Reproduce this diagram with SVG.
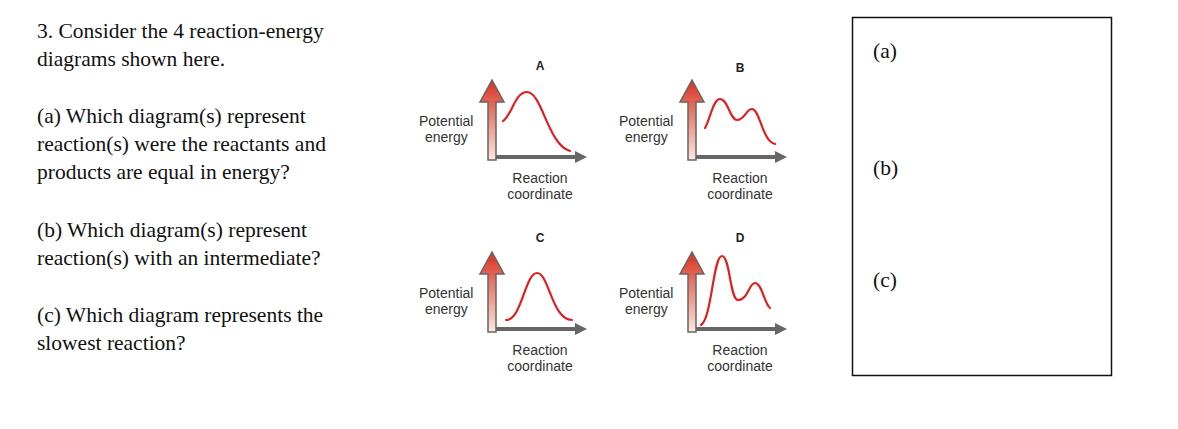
<svg xmlns="http://www.w3.org/2000/svg" width="1178" height="429" viewBox="0 0 1178 429">
<style>
.q{font-family:"Liberation Serif",serif;font-size:21.5px;fill:#111}
.s{font-family:"Liberation Sans",Arial,sans-serif;font-size:14px;fill:#333}
.t{font-family:"Liberation Sans",Arial,sans-serif;font-size:12px;font-weight:bold;fill:#222;text-anchor:middle}
.c{fill:none;stroke:#e02020;stroke-width:2.2;stroke-linecap:round}
.ax{fill:none;stroke:#666;stroke-width:4}
</style>
<defs>
<linearGradient id="g" x1="0" y1="0" x2="0" y2="1">
<stop offset="0" stop-color="#d8301c"/><stop offset="1" stop-color="#fbe8df"/>
</linearGradient>
<marker id="ah" viewBox="0 0 10 10" refX="5" refY="5" markerWidth="3" markerHeight="3" orient="auto"><path d="M0,0L10,5L0,10z" fill="#666"/></marker>
<g id="axes">
<path class="ax" d="M494,157H581" marker-end="url(#ah)"/>
<path d="M488,102H480L492,80L504,102H496V160H488Z" fill="url(#g)" stroke="#666" stroke-width="1.5"/>
<text class="s" x="419" y="126">Potential</text>
<text class="s" x="425" y="142">energy</text>
<text class="s" x="540" y="183" text-anchor="middle">Reaction</text>
<text class="s" x="540" y="199" text-anchor="middle">coordinate</text>
</g>
</defs>
<g id="question">
<text class="q" x="37" y="38">3. Consider the 4 reaction-energy</text>
<text class="q" x="37" y="66">diagrams shown here.</text>
<text class="q" x="37" y="123">(a) Which diagram(s) represent</text>
<text class="q" x="37" y="151">reaction(s) were the reactants and</text>
<text class="q" x="37" y="179">products are equal in energy?</text>
<text class="q" x="37" y="237">(b) Which diagram(s) represent</text>
<text class="q" x="37" y="265">reaction(s) with an intermediate?</text>
<text class="q" x="37" y="322">(c) Which diagram represents the</text>
<text class="q" x="37" y="350">slowest reaction?</text>
</g>
<g id="diagramA">
<text class="t" x="540" y="70">A</text>
<use href="#axes"/>
<path class="c" d="M503,121C512,115 515,92 527,92C542,92 548,145 570,151"/>
</g>
<g id="diagramB">
<text class="t" x="740" y="72">B</text>
<use href="#axes" transform="translate(200,0)"/>
<path class="c" d="M705,128C710,120 713,99 720,99C728,99 730,120 737,120C745,120 746,109 752,109C760,109 762,141 775,144"/>
</g>
<g id="diagramC">
<text class="t" x="540" y="242">C</text>
<use href="#axes" transform="translate(0,172)"/>
<path class="c" d="M506,320C522,320 525,273 537,273C549,273 552,320 572,320"/>
</g>
<g id="diagramD">
<text class="t" x="740" y="242">D</text>
<use href="#axes" transform="translate(200,172)"/>
<path class="c" d="M701,325C712,318 713,256 722,256C730,256 730,300 738,300C748,300 749,283 755,283C762,283 764,303 770,308"/>
</g>
<g id="answerbox">
<rect x="852.5" y="17.5" width="259" height="358" fill="none" stroke="#111" stroke-width="1.5"/>
<text class="q" x="873" y="58">(a)</text>
<text class="q" x="873" y="175">(b)</text>
<text class="q" x="873" y="287">(c)</text>
</g>
</svg>
